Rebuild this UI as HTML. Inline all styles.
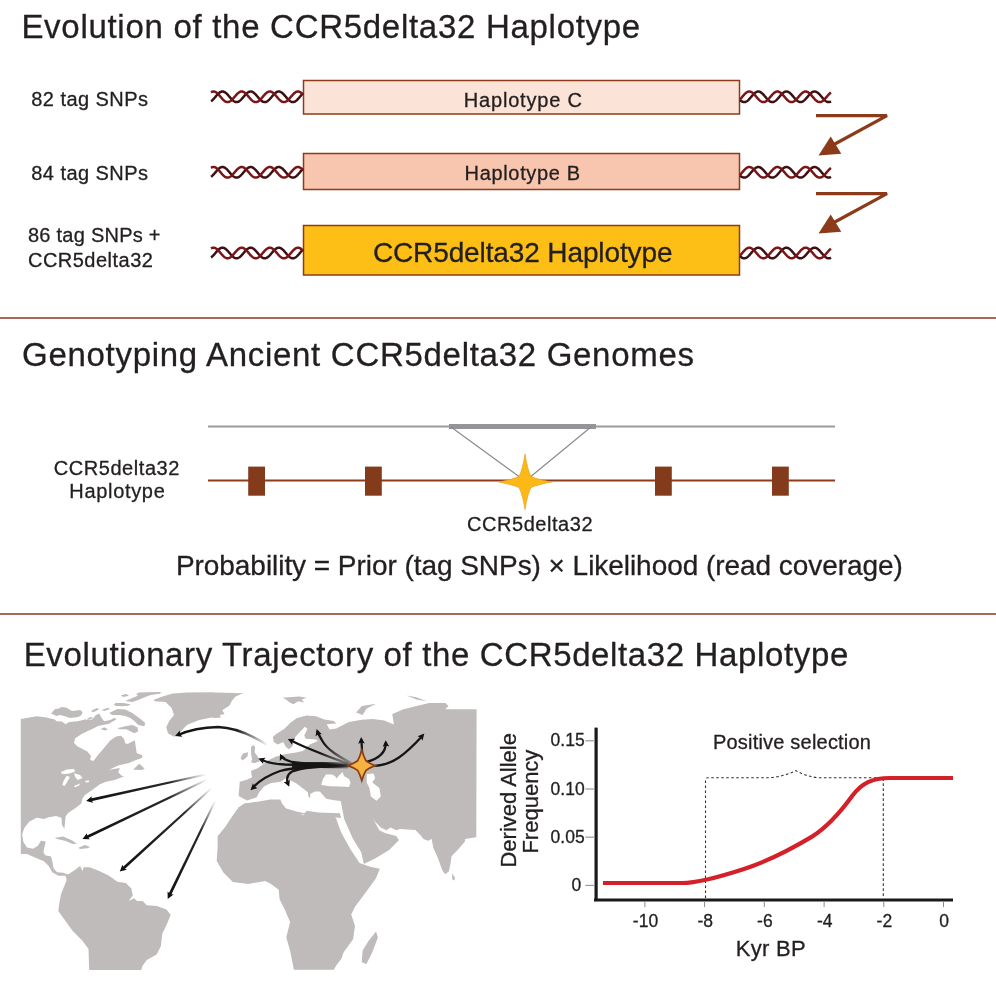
<!DOCTYPE html>
<html><head><meta charset="utf-8"><style>
html,body{margin:0;padding:0;background:#fff;width:996px;height:996px;overflow:hidden;position:relative}
text{font-family:"Liberation Sans",sans-serif;stroke:#231f20;stroke-width:0.3px}
svg{will-change:transform}
</style></head><body>
<svg width="996" height="996" viewBox="0 0 996 996" style="position:absolute;left:0;top:0"><text x="21.4" y="38.2" font-size="33" letter-spacing="0.71" fill="#231f20" font-family="Liberation Sans, sans-serif">Evolution of the CCR5delta32 Haplotype</text>
<text x="31.3" y="105.8" font-size="20" letter-spacing="0.44" fill="#231f20" font-family="Liberation Sans, sans-serif">82 tag SNPs</text>
<text x="31.3" y="179.8" font-size="20" letter-spacing="0.44" fill="#231f20" font-family="Liberation Sans, sans-serif">84 tag SNPs</text>
<text x="28" y="241.6" font-size="20" letter-spacing="0.25" fill="#231f20" font-family="Liberation Sans, sans-serif">86 tag SNPs +</text>
<text x="28" y="266.8" font-size="20" letter-spacing="0.48" fill="#231f20" font-family="Liberation Sans, sans-serif">CCR5delta32</text>
<rect x="303.5" y="80.5" width="436" height="33.5" fill="#fbe3d7" stroke="#8e3b1b" stroke-width="1.5"/>
<rect x="303.5" y="153.5" width="436" height="36" fill="#f8c5ae" stroke="#8e3b1b" stroke-width="1.5"/>
<rect x="303.5" y="225.5" width="436" height="49.5" fill="#fdbf16" stroke="#8e3b1b" stroke-width="1.5"/>
<text x="463.8" y="107" font-size="20" letter-spacing="0.8" fill="#231f20" font-family="Liberation Sans, sans-serif">Haplotype C</text>
<text x="464.6" y="180.3" font-size="20" letter-spacing="0.66" fill="#231f20" font-family="Liberation Sans, sans-serif">Haplotype B</text>
<text x="372.9" y="262.4" font-size="28" letter-spacing="-0.12" fill="#231f20" font-family="Liberation Sans, sans-serif">CCR5delta32 Haplotype</text>
<path d="M211.00,101.24 L211.38,100.97 L211.77,100.68 L212.15,100.35 L212.53,100.00 L212.92,99.63 L213.30,99.24 L213.68,98.83 L214.07,98.40 L214.45,97.96 L214.83,97.52 L215.22,97.07 L215.60,96.61 L215.98,96.16 L216.37,95.71 L216.75,95.28 L217.13,94.85 L217.52,94.43 L217.90,94.04 L218.28,93.66 L218.67,93.31 L219.05,92.98 L219.43,92.68 L219.82,92.41 L220.20,92.17 L220.58,91.97 L220.97,91.80 L221.35,91.67 L221.73,91.57 L222.12,91.52 L222.50,91.50 L222.88,91.52 L223.27,91.58 L223.65,91.68 L224.03,91.82 L224.42,91.99 L224.80,92.19 L225.18,92.44 L225.57,92.71 L225.95,93.01 L226.33,93.34 L226.72,93.70 L227.10,94.08 L227.48,94.48 L227.87,94.89 L228.25,95.32 L228.63,95.76 L229.02,96.21 L229.40,96.66 L229.78,97.11 L230.17,97.57 L230.55,98.01 L230.93,98.45 L231.32,98.87 L231.70,99.28 L232.08,99.67 L232.47,100.04 L232.85,100.39 L233.23,100.71 L233.62,101.00 L234.00,101.26 L234.38,101.49 L234.77,101.68 L235.15,101.84 L235.53,101.96 L235.92,102.05 L236.30,102.09 L236.68,102.10 L237.07,102.07 L237.45,101.99 L237.83,101.89 L238.22,101.74 L238.60,101.56 L238.98,101.34 L239.37,101.09 L239.75,100.81 L240.13,100.50 L240.52,100.16 L240.90,99.80 L241.28,99.41 L241.67,99.01 L242.05,98.59 L242.43,98.16 L242.82,97.71 L243.20,97.26 L243.58,96.81 L243.97,96.36 L244.35,95.91 L244.73,95.47 L245.12,95.03 L245.50,94.61 L245.88,94.21 L246.27,93.82 L246.65,93.46 L247.03,93.12 L247.42,92.81 L247.80,92.52 L248.18,92.27 L248.57,92.05 L248.95,91.87 L249.33,91.72 L249.72,91.61 L250.10,91.54 L250.48,91.50 L250.87,91.51 L251.25,91.55 L251.63,91.63 L252.02,91.75 L252.40,91.91 L252.78,92.10 L253.17,92.33 L253.55,92.59 L253.93,92.88 L254.32,93.20 L254.70,93.54 L255.08,93.91 L255.47,94.30 L255.85,94.71 L256.23,95.13 L256.62,95.57 L257.00,96.01 L257.38,96.46 L257.77,96.92 L258.15,97.37 L258.53,97.82 L258.92,98.26 L259.30,98.69 L259.68,99.10 L260.07,99.50 L260.45,99.88 L260.83,100.24 L261.22,100.57 L261.60,100.88 L261.98,101.15 L262.37,101.39 L262.75,101.60 L263.13,101.78 L263.52,101.91 L263.90,102.01 L264.28,102.08 L264.67,102.10 L265.05,102.08 L265.43,102.03 L265.82,101.94 L266.20,101.81 L266.58,101.64 L266.97,101.44 L267.35,101.20 L267.73,100.93 L268.12,100.64 L268.50,100.31 L268.88,99.96 L269.27,99.58 L269.65,99.19 L270.03,98.77 L270.42,98.35 L270.80,97.91 L271.18,97.46 L271.57,97.01 L271.95,96.55 L272.33,96.10 L272.72,95.66 L273.10,95.22 L273.48,94.79 L273.87,94.38 L274.25,93.99 L274.63,93.61 L275.02,93.26 L275.40,92.94 L275.78,92.64 L276.17,92.38 L276.55,92.14 L276.93,91.94 L277.32,91.78 L277.70,91.65 L278.08,91.56 L278.47,91.51 L278.85,91.50 L279.23,91.53 L279.62,91.59 L280.00,91.70 L280.38,91.84 L280.77,92.01 L281.15,92.22 L281.53,92.47 L281.92,92.75 L282.30,93.05 L282.68,93.39 L283.07,93.75 L283.45,94.13 L283.83,94.53 L284.22,94.95 L284.60,95.38 L284.98,95.82 L285.37,96.27 L285.75,96.72 L286.13,97.17 L286.52,97.62 L286.90,98.07 L287.28,98.50 L287.67,98.93 L288.05,99.33 L288.43,99.72 L288.82,100.09 L289.20,100.43 L289.58,100.75 L289.97,101.04 L290.35,101.29 L290.73,101.52 L291.12,101.71 L291.50,101.86 L291.88,101.98 L292.27,102.05 L292.65,102.09 L293.03,102.10 L293.42,102.06 L293.80,101.98 L294.18,101.87 L294.57,101.72 L294.95,101.53 L295.33,101.31 L295.72,101.06 L296.10,100.77 L296.48,100.46 L296.87,100.11 L297.25,99.75 L297.63,99.36 L298.02,98.96 L298.40,98.53 L298.78,98.10 L299.17,97.66 L299.55,97.21 L299.93,96.75 L300.32,96.30 L300.70,95.85 L301.08,95.41 L301.47,94.98 L301.85,94.56 L302.23,94.16 L302.62,93.77 L303.00,93.41" stroke="#3d1113" stroke-width="2.5" fill="none"/><path d="M211.00,92.32 L211.38,92.09 L211.77,91.90 L212.15,91.75 L212.53,91.63 L212.92,91.55 L213.30,91.51 L213.68,91.50 L214.07,91.54 L214.45,91.61 L214.83,91.73 L215.22,91.88 L215.60,92.06 L215.98,92.28 L216.37,92.53 L216.75,92.82 L217.13,93.13 L217.52,93.47 L217.90,93.84 L218.28,94.22 L218.67,94.63 L219.05,95.05 L219.43,95.48 L219.82,95.93 L220.20,96.38 L220.58,96.83 L220.97,97.28 L221.35,97.73 L221.73,98.18 L222.12,98.61 L222.50,99.03 L222.88,99.43 L223.27,99.81 L223.65,100.17 L224.03,100.51 L224.42,100.82 L224.80,101.10 L225.18,101.35 L225.57,101.57 L225.95,101.75 L226.33,101.89 L226.72,102.00 L227.10,102.07 L227.48,102.10 L227.87,102.09 L228.25,102.04 L228.63,101.96 L229.02,101.84 L229.40,101.68 L229.78,101.48 L230.17,101.25 L230.55,100.99 L230.93,100.70 L231.32,100.37 L231.70,100.03 L232.08,99.66 L232.47,99.26 L232.85,98.85 L233.23,98.43 L233.62,97.99 L234.00,97.55 L234.38,97.09 L234.77,96.64 L235.15,96.19 L235.53,95.74 L235.92,95.30 L236.30,94.87 L236.68,94.46 L237.07,94.06 L237.45,93.68 L237.83,93.33 L238.22,93.00 L238.60,92.70 L238.98,92.42 L239.37,92.19 L239.75,91.98 L240.13,91.81 L240.52,91.67 L240.90,91.58 L241.28,91.52 L241.67,91.50 L242.05,91.52 L242.43,91.58 L242.82,91.67 L243.20,91.81 L243.58,91.98 L243.97,92.18 L244.35,92.42 L244.73,92.69 L245.12,92.99 L245.50,93.32 L245.88,93.68 L246.27,94.05 L246.65,94.45 L247.03,94.87 L247.42,95.29 L247.80,95.73 L248.18,96.18 L248.57,96.63 L248.95,97.09 L249.33,97.54 L249.72,97.98 L250.10,98.42 L250.48,98.85 L250.87,99.26 L251.25,99.65 L251.63,100.02 L252.02,100.37 L252.40,100.69 L252.78,100.98 L253.17,101.25 L253.55,101.48 L253.93,101.67 L254.32,101.83 L254.70,101.96 L255.08,102.04 L255.47,102.09 L255.85,102.10 L256.23,102.07 L256.62,102.00 L257.00,101.89 L257.38,101.75 L257.77,101.57 L258.15,101.35 L258.53,101.11 L258.92,100.83 L259.30,100.52 L259.68,100.18 L260.07,99.82 L260.45,99.44 L260.83,99.03 L261.22,98.61 L261.60,98.18 L261.98,97.74 L262.37,97.29 L262.75,96.84 L263.13,96.39 L263.52,95.94 L263.90,95.49 L264.28,95.06 L264.67,94.64 L265.05,94.23 L265.43,93.84 L265.82,93.48 L266.20,93.14 L266.58,92.82 L266.97,92.54 L267.35,92.29 L267.73,92.06 L268.12,91.88 L268.50,91.73 L268.88,91.62 L269.27,91.54 L269.65,91.50 L270.03,91.51 L270.42,91.55 L270.80,91.63 L271.18,91.74 L271.57,91.90 L271.95,92.09 L272.33,92.31 L272.72,92.57 L273.10,92.86 L273.48,93.18 L273.87,93.52 L274.25,93.89 L274.63,94.28 L275.02,94.68 L275.40,95.11 L275.78,95.54 L276.17,95.99 L276.55,96.44 L276.93,96.89 L277.32,97.34 L277.70,97.79 L278.08,98.23 L278.47,98.66 L278.85,99.08 L279.23,99.48 L279.62,99.86 L280.00,100.22 L280.38,100.55 L280.77,100.86 L281.15,101.14 L281.53,101.38 L281.92,101.59 L282.30,101.77 L282.68,101.91 L283.07,102.01 L283.45,102.07 L283.83,102.10 L284.22,102.09 L284.60,102.03 L284.98,101.94 L285.37,101.82 L285.75,101.65 L286.13,101.45 L286.52,101.22 L286.90,100.95 L287.28,100.65 L287.67,100.33 L288.05,99.98 L288.43,99.61 L288.82,99.21 L289.20,98.80 L289.58,98.37 L289.97,97.93 L290.35,97.49 L290.73,97.04 L291.12,96.58 L291.50,96.13 L291.88,95.68 L292.27,95.24 L292.65,94.82 L293.03,94.40 L293.42,94.01 L293.80,93.63 L294.18,93.28 L294.57,92.96 L294.95,92.66 L295.33,92.39 L295.72,92.16 L296.10,91.95 L296.48,91.79 L296.87,91.66 L297.25,91.57 L297.63,91.51 L298.02,91.50 L298.40,91.52 L298.78,91.59 L299.17,91.69 L299.55,91.83 L299.93,92.00 L300.32,92.21 L300.70,92.45 L301.08,92.73 L301.47,93.03 L301.85,93.37 L302.23,93.72 L302.62,94.10 L303.00,94.50" stroke="#7c1517" stroke-width="2.5" fill="none"/>
<path d="M740.00,99.93 L740.38,100.28 L740.76,100.61 L741.14,100.91 L741.52,101.17 L741.90,101.41 L742.27,101.62 L742.65,101.79 L743.03,101.92 L743.41,102.02 L743.79,102.08 L744.17,102.10 L744.55,102.08 L744.93,102.03 L745.31,101.94 L745.69,101.81 L746.07,101.65 L746.45,101.45 L746.83,101.22 L747.20,100.96 L747.58,100.66 L747.96,100.34 L748.34,100.00 L748.72,99.63 L749.10,99.24 L749.48,98.83 L749.86,98.41 L750.24,97.98 L750.62,97.54 L751.00,97.09 L751.38,96.64 L751.75,96.20 L752.13,95.75 L752.51,95.32 L752.89,94.89 L753.27,94.48 L753.65,94.09 L754.03,93.71 L754.41,93.36 L754.79,93.03 L755.17,92.73 L755.55,92.46 L755.92,92.22 L756.30,92.01 L756.68,91.83 L757.06,91.69 L757.44,91.59 L757.82,91.53 L758.20,91.50 L758.58,91.51 L758.96,91.56 L759.34,91.65 L759.72,91.77 L760.10,91.93 L760.48,92.12 L760.85,92.35 L761.23,92.61 L761.61,92.90 L761.99,93.22 L762.37,93.56 L762.75,93.93 L763.13,94.31 L763.51,94.72 L763.89,95.14 L764.27,95.57 L764.65,96.01 L765.02,96.45 L765.40,96.90 L765.78,97.35 L766.16,97.79 L766.54,98.23 L766.92,98.66 L767.30,99.07 L767.68,99.47 L768.06,99.84 L768.44,100.20 L768.82,100.53 L769.20,100.84 L769.58,101.11 L769.95,101.36 L770.33,101.57 L770.71,101.75 L771.09,101.89 L771.47,102.00 L771.85,102.07 L772.23,102.10 L772.61,102.09 L772.99,102.05 L773.37,101.97 L773.75,101.85 L774.12,101.69 L774.50,101.50 L774.88,101.28 L775.26,101.02 L775.64,100.74 L776.02,100.42 L776.40,100.08 L776.78,99.72 L777.16,99.34 L777.54,98.93 L777.92,98.51 L778.30,98.08 L778.67,97.65 L779.05,97.20 L779.43,96.75 L779.81,96.30 L780.19,95.86 L780.57,95.42 L780.95,94.99 L781.33,94.58 L781.71,94.18 L782.09,93.80 L782.47,93.44 L782.85,93.11 L783.23,92.80 L783.60,92.52 L783.98,92.27 L784.36,92.05 L784.74,91.87 L785.12,91.72 L785.50,91.61 L785.88,91.54 L786.26,91.50 L786.64,91.51 L787.02,91.55 L787.40,91.62 L787.77,91.74 L788.15,91.89 L788.53,92.07 L788.91,92.29 L789.29,92.54 L789.67,92.83 L790.05,93.14 L790.43,93.47 L790.81,93.84 L791.19,94.22 L791.57,94.62 L791.95,95.03 L792.33,95.46 L792.70,95.90 L793.08,96.35 L793.46,96.79 L793.84,97.24 L794.22,97.69 L794.60,98.13 L794.98,98.55 L795.36,98.97 L795.74,99.37 L796.12,99.75 L796.50,100.12 L796.88,100.45 L797.25,100.76 L797.63,101.05 L798.01,101.30 L798.39,101.52 L798.77,101.71 L799.15,101.86 L799.53,101.97 L799.91,102.05 L800.29,102.09 L800.67,102.10 L801.05,102.06 L801.42,101.99 L801.80,101.88 L802.18,101.73 L802.56,101.55 L802.94,101.34 L803.32,101.09 L803.70,100.81 L804.08,100.50 L804.46,100.17 L804.84,99.81 L805.22,99.43 L805.60,99.03 L805.98,98.62 L806.35,98.19 L806.73,97.75 L807.11,97.31 L807.49,96.86 L807.87,96.41 L808.25,95.97 L808.63,95.53 L809.01,95.10 L809.39,94.68 L809.77,94.28 L810.15,93.89 L810.52,93.53 L810.90,93.19 L811.28,92.87 L811.66,92.58 L812.04,92.33 L812.42,92.10 L812.80,91.91 L813.18,91.76 L813.56,91.64 L813.94,91.55 L814.32,91.51 L814.70,91.50 L815.08,91.53 L815.45,91.60 L815.83,91.71 L816.21,91.85 L816.59,92.03 L816.97,92.24 L817.35,92.48 L817.73,92.76 L818.11,93.06 L818.49,93.39 L818.87,93.75 L819.25,94.12 L819.62,94.52 L820.00,94.93 L820.38,95.36 L820.76,95.79 L821.14,96.24 L821.52,96.69 L821.90,97.13 L822.28,97.58 L822.66,98.02 L823.04,98.45 L823.42,98.87 L823.80,99.28 L824.17,99.66 L824.55,100.03 L824.93,100.37 L825.31,100.69 L825.69,100.98 L826.07,101.24 L826.45,101.47 L826.83,101.67 L827.21,101.83 L827.59,101.95 L827.97,102.04 L828.35,102.09 L828.73,102.10 L829.10,102.07 L829.48,102.01 L829.86,101.91 L830.24,101.77 L830.62,101.60 L831.00,101.39" stroke="#3d1113" stroke-width="2.5" fill="none"/><path d="M740.00,99.38 L740.38,98.98 L740.76,98.57 L741.14,98.14 L741.52,97.70 L741.90,97.26 L742.27,96.81 L742.65,96.36 L743.03,95.92 L743.41,95.48 L743.79,95.05 L744.17,94.63 L744.55,94.23 L744.93,93.85 L745.31,93.49 L745.69,93.15 L746.07,92.84 L746.45,92.55 L746.83,92.30 L747.20,92.08 L747.58,91.89 L747.96,91.74 L748.34,91.63 L748.72,91.55 L749.10,91.51 L749.48,91.50 L749.86,91.54 L750.24,91.61 L750.62,91.72 L751.00,91.87 L751.38,92.05 L751.75,92.26 L752.13,92.51 L752.51,92.79 L752.89,93.10 L753.27,93.43 L753.65,93.79 L754.03,94.17 L754.41,94.57 L754.79,94.98 L755.17,95.41 L755.55,95.85 L755.92,96.29 L756.30,96.74 L756.68,97.19 L757.06,97.63 L757.44,98.07 L757.82,98.50 L758.20,98.92 L758.58,99.32 L758.96,99.71 L759.34,100.07 L759.72,100.41 L760.10,100.73 L760.48,101.01 L760.85,101.27 L761.23,101.50 L761.61,101.69 L761.99,101.84 L762.37,101.96 L762.75,102.05 L763.13,102.09 L763.51,102.10 L763.89,102.07 L764.27,102.00 L764.65,101.89 L765.02,101.75 L765.40,101.58 L765.78,101.36 L766.16,101.12 L766.54,100.85 L766.92,100.54 L767.30,100.21 L767.68,99.86 L768.06,99.48 L768.44,99.08 L768.82,98.67 L769.20,98.24 L769.58,97.81 L769.95,97.36 L770.33,96.92 L770.71,96.47 L771.09,96.02 L771.47,95.58 L771.85,95.15 L772.23,94.73 L772.61,94.33 L772.99,93.94 L773.37,93.57 L773.75,93.23 L774.12,92.91 L774.50,92.62 L774.88,92.36 L775.26,92.13 L775.64,91.94 L776.02,91.77 L776.40,91.65 L776.78,91.56 L777.16,91.51 L777.54,91.50 L777.92,91.53 L778.30,91.59 L778.67,91.69 L779.05,91.83 L779.43,92.00 L779.81,92.21 L780.19,92.45 L780.57,92.72 L780.95,93.02 L781.33,93.35 L781.71,93.70 L782.09,94.07 L782.47,94.47 L782.85,94.88 L783.23,95.30 L783.60,95.74 L783.98,96.18 L784.36,96.63 L784.74,97.08 L785.12,97.52 L785.50,97.96 L785.88,98.40 L786.26,98.82 L786.64,99.23 L787.02,99.62 L787.40,99.99 L787.77,100.33 L788.15,100.65 L788.53,100.95 L788.91,101.21 L789.29,101.44 L789.67,101.64 L790.05,101.81 L790.43,101.94 L790.81,102.03 L791.19,102.08 L791.57,102.10 L791.95,102.08 L792.33,102.02 L792.70,101.92 L793.08,101.79 L793.46,101.62 L793.84,101.42 L794.22,101.18 L794.60,100.91 L794.98,100.62 L795.36,100.29 L795.74,99.94 L796.12,99.57 L796.50,99.18 L796.88,98.77 L797.25,98.35 L797.63,97.91 L798.01,97.47 L798.39,97.03 L798.77,96.58 L799.15,96.13 L799.53,95.69 L799.91,95.25 L800.29,94.83 L800.67,94.42 L801.05,94.03 L801.42,93.66 L801.80,93.31 L802.18,92.98 L802.56,92.69 L802.94,92.42 L803.32,92.18 L803.70,91.98 L804.08,91.81 L804.46,91.68 L804.84,91.58 L805.22,91.52 L805.60,91.50 L805.98,91.52 L806.35,91.57 L806.73,91.66 L807.11,91.79 L807.49,91.96 L807.87,92.16 L808.25,92.39 L808.63,92.65 L809.01,92.95 L809.39,93.27 L809.77,93.61 L810.15,93.98 L810.52,94.37 L810.90,94.78 L811.28,95.20 L811.66,95.63 L812.04,96.07 L812.42,96.52 L812.80,96.97 L813.18,97.42 L813.56,97.86 L813.94,98.29 L814.32,98.72 L814.70,99.13 L815.08,99.52 L815.45,99.90 L815.83,100.25 L816.21,100.58 L816.59,100.88 L816.97,101.15 L817.35,101.39 L817.73,101.60 L818.11,101.77 L818.49,101.91 L818.87,102.01 L819.25,102.07 L819.62,102.10 L820.00,102.09 L820.38,102.04 L820.76,101.95 L821.14,101.83 L821.52,101.67 L821.90,101.47 L822.28,101.24 L822.66,100.98 L823.04,100.69 L823.42,100.37 L823.80,100.03 L824.17,99.66 L824.55,99.28 L824.93,98.87 L825.31,98.45 L825.69,98.02 L826.07,97.58 L826.45,97.13 L826.83,96.69 L827.21,96.24 L827.59,95.79 L827.97,95.36 L828.35,94.93 L828.73,94.52 L829.10,94.12 L829.48,93.75 L829.86,93.39 L830.24,93.06 L830.62,92.76 L831.00,92.48" stroke="#7c1517" stroke-width="2.5" fill="none"/>
<path d="M211.00,176.74 L211.38,176.47 L211.77,176.18 L212.15,175.85 L212.53,175.50 L212.92,175.13 L213.30,174.74 L213.68,174.33 L214.07,173.90 L214.45,173.46 L214.83,173.02 L215.22,172.57 L215.60,172.11 L215.98,171.66 L216.37,171.21 L216.75,170.78 L217.13,170.35 L217.52,169.93 L217.90,169.54 L218.28,169.16 L218.67,168.81 L219.05,168.48 L219.43,168.18 L219.82,167.91 L220.20,167.67 L220.58,167.47 L220.97,167.30 L221.35,167.17 L221.73,167.07 L222.12,167.02 L222.50,167.00 L222.88,167.02 L223.27,167.08 L223.65,167.18 L224.03,167.32 L224.42,167.49 L224.80,167.69 L225.18,167.94 L225.57,168.21 L225.95,168.51 L226.33,168.84 L226.72,169.20 L227.10,169.58 L227.48,169.98 L227.87,170.39 L228.25,170.82 L228.63,171.26 L229.02,171.71 L229.40,172.16 L229.78,172.61 L230.17,173.07 L230.55,173.51 L230.93,173.95 L231.32,174.37 L231.70,174.78 L232.08,175.17 L232.47,175.54 L232.85,175.89 L233.23,176.21 L233.62,176.50 L234.00,176.76 L234.38,176.99 L234.77,177.18 L235.15,177.34 L235.53,177.46 L235.92,177.55 L236.30,177.59 L236.68,177.60 L237.07,177.57 L237.45,177.49 L237.83,177.39 L238.22,177.24 L238.60,177.06 L238.98,176.84 L239.37,176.59 L239.75,176.31 L240.13,176.00 L240.52,175.66 L240.90,175.30 L241.28,174.91 L241.67,174.51 L242.05,174.09 L242.43,173.66 L242.82,173.21 L243.20,172.76 L243.58,172.31 L243.97,171.86 L244.35,171.41 L244.73,170.97 L245.12,170.53 L245.50,170.11 L245.88,169.71 L246.27,169.32 L246.65,168.96 L247.03,168.62 L247.42,168.31 L247.80,168.02 L248.18,167.77 L248.57,167.55 L248.95,167.37 L249.33,167.22 L249.72,167.11 L250.10,167.04 L250.48,167.00 L250.87,167.01 L251.25,167.05 L251.63,167.13 L252.02,167.25 L252.40,167.41 L252.78,167.60 L253.17,167.83 L253.55,168.09 L253.93,168.38 L254.32,168.70 L254.70,169.04 L255.08,169.41 L255.47,169.80 L255.85,170.21 L256.23,170.63 L256.62,171.07 L257.00,171.51 L257.38,171.96 L257.77,172.42 L258.15,172.87 L258.53,173.32 L258.92,173.76 L259.30,174.19 L259.68,174.60 L260.07,175.00 L260.45,175.38 L260.83,175.74 L261.22,176.07 L261.60,176.38 L261.98,176.65 L262.37,176.89 L262.75,177.10 L263.13,177.28 L263.52,177.41 L263.90,177.51 L264.28,177.58 L264.67,177.60 L265.05,177.58 L265.43,177.53 L265.82,177.44 L266.20,177.31 L266.58,177.14 L266.97,176.94 L267.35,176.70 L267.73,176.43 L268.12,176.14 L268.50,175.81 L268.88,175.46 L269.27,175.08 L269.65,174.69 L270.03,174.27 L270.42,173.85 L270.80,173.41 L271.18,172.96 L271.57,172.51 L271.95,172.05 L272.33,171.60 L272.72,171.16 L273.10,170.72 L273.48,170.29 L273.87,169.88 L274.25,169.49 L274.63,169.11 L275.02,168.76 L275.40,168.44 L275.78,168.14 L276.17,167.88 L276.55,167.64 L276.93,167.44 L277.32,167.28 L277.70,167.15 L278.08,167.06 L278.47,167.01 L278.85,167.00 L279.23,167.03 L279.62,167.09 L280.00,167.20 L280.38,167.34 L280.77,167.51 L281.15,167.72 L281.53,167.97 L281.92,168.25 L282.30,168.55 L282.68,168.89 L283.07,169.25 L283.45,169.63 L283.83,170.03 L284.22,170.45 L284.60,170.88 L284.98,171.32 L285.37,171.77 L285.75,172.22 L286.13,172.67 L286.52,173.12 L286.90,173.57 L287.28,174.00 L287.67,174.43 L288.05,174.83 L288.43,175.22 L288.82,175.59 L289.20,175.93 L289.58,176.25 L289.97,176.54 L290.35,176.79 L290.73,177.02 L291.12,177.21 L291.50,177.36 L291.88,177.48 L292.27,177.55 L292.65,177.59 L293.03,177.60 L293.42,177.56 L293.80,177.48 L294.18,177.37 L294.57,177.22 L294.95,177.03 L295.33,176.81 L295.72,176.56 L296.10,176.27 L296.48,175.96 L296.87,175.61 L297.25,175.25 L297.63,174.86 L298.02,174.46 L298.40,174.03 L298.78,173.60 L299.17,173.16 L299.55,172.71 L299.93,172.25 L300.32,171.80 L300.70,171.35 L301.08,170.91 L301.47,170.48 L301.85,170.06 L302.23,169.66 L302.62,169.27 L303.00,168.91" stroke="#3d1113" stroke-width="2.5" fill="none"/><path d="M211.00,167.82 L211.38,167.59 L211.77,167.40 L212.15,167.25 L212.53,167.13 L212.92,167.05 L213.30,167.01 L213.68,167.00 L214.07,167.04 L214.45,167.11 L214.83,167.23 L215.22,167.38 L215.60,167.56 L215.98,167.78 L216.37,168.03 L216.75,168.32 L217.13,168.63 L217.52,168.97 L217.90,169.34 L218.28,169.72 L218.67,170.13 L219.05,170.55 L219.43,170.98 L219.82,171.43 L220.20,171.88 L220.58,172.33 L220.97,172.78 L221.35,173.23 L221.73,173.68 L222.12,174.11 L222.50,174.53 L222.88,174.93 L223.27,175.31 L223.65,175.67 L224.03,176.01 L224.42,176.32 L224.80,176.60 L225.18,176.85 L225.57,177.07 L225.95,177.25 L226.33,177.39 L226.72,177.50 L227.10,177.57 L227.48,177.60 L227.87,177.59 L228.25,177.54 L228.63,177.46 L229.02,177.34 L229.40,177.18 L229.78,176.98 L230.17,176.75 L230.55,176.49 L230.93,176.20 L231.32,175.87 L231.70,175.53 L232.08,175.16 L232.47,174.76 L232.85,174.35 L233.23,173.93 L233.62,173.49 L234.00,173.05 L234.38,172.59 L234.77,172.14 L235.15,171.69 L235.53,171.24 L235.92,170.80 L236.30,170.37 L236.68,169.96 L237.07,169.56 L237.45,169.18 L237.83,168.83 L238.22,168.50 L238.60,168.20 L238.98,167.92 L239.37,167.69 L239.75,167.48 L240.13,167.31 L240.52,167.17 L240.90,167.08 L241.28,167.02 L241.67,167.00 L242.05,167.02 L242.43,167.08 L242.82,167.17 L243.20,167.31 L243.58,167.48 L243.97,167.68 L244.35,167.92 L244.73,168.19 L245.12,168.49 L245.50,168.82 L245.88,169.18 L246.27,169.55 L246.65,169.95 L247.03,170.37 L247.42,170.79 L247.80,171.23 L248.18,171.68 L248.57,172.13 L248.95,172.59 L249.33,173.04 L249.72,173.48 L250.10,173.92 L250.48,174.35 L250.87,174.76 L251.25,175.15 L251.63,175.52 L252.02,175.87 L252.40,176.19 L252.78,176.48 L253.17,176.75 L253.55,176.98 L253.93,177.17 L254.32,177.33 L254.70,177.46 L255.08,177.54 L255.47,177.59 L255.85,177.60 L256.23,177.57 L256.62,177.50 L257.00,177.39 L257.38,177.25 L257.77,177.07 L258.15,176.85 L258.53,176.61 L258.92,176.33 L259.30,176.02 L259.68,175.68 L260.07,175.32 L260.45,174.94 L260.83,174.53 L261.22,174.11 L261.60,173.68 L261.98,173.24 L262.37,172.79 L262.75,172.34 L263.13,171.89 L263.52,171.44 L263.90,170.99 L264.28,170.56 L264.67,170.14 L265.05,169.73 L265.43,169.34 L265.82,168.98 L266.20,168.64 L266.58,168.32 L266.97,168.04 L267.35,167.79 L267.73,167.56 L268.12,167.38 L268.50,167.23 L268.88,167.12 L269.27,167.04 L269.65,167.00 L270.03,167.01 L270.42,167.05 L270.80,167.13 L271.18,167.24 L271.57,167.40 L271.95,167.59 L272.33,167.81 L272.72,168.07 L273.10,168.36 L273.48,168.68 L273.87,169.02 L274.25,169.39 L274.63,169.78 L275.02,170.18 L275.40,170.61 L275.78,171.04 L276.17,171.49 L276.55,171.94 L276.93,172.39 L277.32,172.84 L277.70,173.29 L278.08,173.73 L278.47,174.16 L278.85,174.58 L279.23,174.98 L279.62,175.36 L280.00,175.72 L280.38,176.05 L280.77,176.36 L281.15,176.64 L281.53,176.88 L281.92,177.09 L282.30,177.27 L282.68,177.41 L283.07,177.51 L283.45,177.57 L283.83,177.60 L284.22,177.59 L284.60,177.53 L284.98,177.44 L285.37,177.32 L285.75,177.15 L286.13,176.95 L286.52,176.72 L286.90,176.45 L287.28,176.15 L287.67,175.83 L288.05,175.48 L288.43,175.11 L288.82,174.71 L289.20,174.30 L289.58,173.87 L289.97,173.43 L290.35,172.99 L290.73,172.54 L291.12,172.08 L291.50,171.63 L291.88,171.18 L292.27,170.74 L292.65,170.32 L293.03,169.90 L293.42,169.51 L293.80,169.13 L294.18,168.78 L294.57,168.46 L294.95,168.16 L295.33,167.89 L295.72,167.66 L296.10,167.45 L296.48,167.29 L296.87,167.16 L297.25,167.07 L297.63,167.01 L298.02,167.00 L298.40,167.02 L298.78,167.09 L299.17,167.19 L299.55,167.33 L299.93,167.50 L300.32,167.71 L300.70,167.95 L301.08,168.23 L301.47,168.53 L301.85,168.87 L302.23,169.22 L302.62,169.60 L303.00,170.00" stroke="#7c1517" stroke-width="2.5" fill="none"/>
<path d="M740.00,175.43 L740.38,175.78 L740.76,176.11 L741.14,176.41 L741.52,176.67 L741.90,176.91 L742.27,177.12 L742.65,177.29 L743.03,177.42 L743.41,177.52 L743.79,177.58 L744.17,177.60 L744.55,177.58 L744.93,177.53 L745.31,177.44 L745.69,177.31 L746.07,177.15 L746.45,176.95 L746.83,176.72 L747.20,176.46 L747.58,176.16 L747.96,175.84 L748.34,175.50 L748.72,175.13 L749.10,174.74 L749.48,174.33 L749.86,173.91 L750.24,173.48 L750.62,173.04 L751.00,172.59 L751.38,172.14 L751.75,171.70 L752.13,171.25 L752.51,170.82 L752.89,170.39 L753.27,169.98 L753.65,169.59 L754.03,169.21 L754.41,168.86 L754.79,168.53 L755.17,168.23 L755.55,167.96 L755.92,167.72 L756.30,167.51 L756.68,167.33 L757.06,167.19 L757.44,167.09 L757.82,167.03 L758.20,167.00 L758.58,167.01 L758.96,167.06 L759.34,167.15 L759.72,167.27 L760.10,167.43 L760.48,167.62 L760.85,167.85 L761.23,168.11 L761.61,168.40 L761.99,168.72 L762.37,169.06 L762.75,169.43 L763.13,169.81 L763.51,170.22 L763.89,170.64 L764.27,171.07 L764.65,171.51 L765.02,171.95 L765.40,172.40 L765.78,172.85 L766.16,173.29 L766.54,173.73 L766.92,174.16 L767.30,174.57 L767.68,174.97 L768.06,175.34 L768.44,175.70 L768.82,176.03 L769.20,176.34 L769.58,176.61 L769.95,176.86 L770.33,177.07 L770.71,177.25 L771.09,177.39 L771.47,177.50 L771.85,177.57 L772.23,177.60 L772.61,177.59 L772.99,177.55 L773.37,177.47 L773.75,177.35 L774.12,177.19 L774.50,177.00 L774.88,176.78 L775.26,176.52 L775.64,176.24 L776.02,175.92 L776.40,175.58 L776.78,175.22 L777.16,174.84 L777.54,174.43 L777.92,174.01 L778.30,173.58 L778.67,173.15 L779.05,172.70 L779.43,172.25 L779.81,171.80 L780.19,171.36 L780.57,170.92 L780.95,170.49 L781.33,170.08 L781.71,169.68 L782.09,169.30 L782.47,168.94 L782.85,168.61 L783.23,168.30 L783.60,168.02 L783.98,167.77 L784.36,167.55 L784.74,167.37 L785.12,167.22 L785.50,167.11 L785.88,167.04 L786.26,167.00 L786.64,167.01 L787.02,167.05 L787.40,167.12 L787.77,167.24 L788.15,167.39 L788.53,167.57 L788.91,167.79 L789.29,168.04 L789.67,168.33 L790.05,168.64 L790.43,168.97 L790.81,169.34 L791.19,169.72 L791.57,170.12 L791.95,170.53 L792.33,170.96 L792.70,171.40 L793.08,171.85 L793.46,172.29 L793.84,172.74 L794.22,173.19 L794.60,173.63 L794.98,174.05 L795.36,174.47 L795.74,174.87 L796.12,175.25 L796.50,175.62 L796.88,175.95 L797.25,176.26 L797.63,176.55 L798.01,176.80 L798.39,177.02 L798.77,177.21 L799.15,177.36 L799.53,177.47 L799.91,177.55 L800.29,177.59 L800.67,177.60 L801.05,177.56 L801.42,177.49 L801.80,177.38 L802.18,177.23 L802.56,177.05 L802.94,176.84 L803.32,176.59 L803.70,176.31 L804.08,176.00 L804.46,175.67 L804.84,175.31 L805.22,174.93 L805.60,174.53 L805.98,174.12 L806.35,173.69 L806.73,173.25 L807.11,172.81 L807.49,172.36 L807.87,171.91 L808.25,171.47 L808.63,171.03 L809.01,170.60 L809.39,170.18 L809.77,169.78 L810.15,169.39 L810.52,169.03 L810.90,168.69 L811.28,168.37 L811.66,168.08 L812.04,167.83 L812.42,167.60 L812.80,167.41 L813.18,167.26 L813.56,167.14 L813.94,167.05 L814.32,167.01 L814.70,167.00 L815.08,167.03 L815.45,167.10 L815.83,167.21 L816.21,167.35 L816.59,167.53 L816.97,167.74 L817.35,167.98 L817.73,168.26 L818.11,168.56 L818.49,168.89 L818.87,169.25 L819.25,169.62 L819.62,170.02 L820.00,170.43 L820.38,170.86 L820.76,171.29 L821.14,171.74 L821.52,172.19 L821.90,172.63 L822.28,173.08 L822.66,173.52 L823.04,173.95 L823.42,174.37 L823.80,174.78 L824.17,175.16 L824.55,175.53 L824.93,175.87 L825.31,176.19 L825.69,176.48 L826.07,176.74 L826.45,176.97 L826.83,177.17 L827.21,177.33 L827.59,177.45 L827.97,177.54 L828.35,177.59 L828.73,177.60 L829.10,177.57 L829.48,177.51 L829.86,177.41 L830.24,177.27 L830.62,177.10 L831.00,176.89" stroke="#3d1113" stroke-width="2.5" fill="none"/><path d="M740.00,174.88 L740.38,174.48 L740.76,174.07 L741.14,173.64 L741.52,173.20 L741.90,172.76 L742.27,172.31 L742.65,171.86 L743.03,171.42 L743.41,170.98 L743.79,170.55 L744.17,170.13 L744.55,169.73 L744.93,169.35 L745.31,168.99 L745.69,168.65 L746.07,168.34 L746.45,168.05 L746.83,167.80 L747.20,167.58 L747.58,167.39 L747.96,167.24 L748.34,167.13 L748.72,167.05 L749.10,167.01 L749.48,167.00 L749.86,167.04 L750.24,167.11 L750.62,167.22 L751.00,167.37 L751.38,167.55 L751.75,167.76 L752.13,168.01 L752.51,168.29 L752.89,168.60 L753.27,168.93 L753.65,169.29 L754.03,169.67 L754.41,170.07 L754.79,170.48 L755.17,170.91 L755.55,171.35 L755.92,171.79 L756.30,172.24 L756.68,172.69 L757.06,173.13 L757.44,173.57 L757.82,174.00 L758.20,174.42 L758.58,174.82 L758.96,175.21 L759.34,175.57 L759.72,175.91 L760.10,176.23 L760.48,176.51 L760.85,176.77 L761.23,177.00 L761.61,177.19 L761.99,177.34 L762.37,177.46 L762.75,177.55 L763.13,177.59 L763.51,177.60 L763.89,177.57 L764.27,177.50 L764.65,177.39 L765.02,177.25 L765.40,177.08 L765.78,176.86 L766.16,176.62 L766.54,176.35 L766.92,176.04 L767.30,175.71 L767.68,175.36 L768.06,174.98 L768.44,174.58 L768.82,174.17 L769.20,173.74 L769.58,173.31 L769.95,172.86 L770.33,172.42 L770.71,171.97 L771.09,171.52 L771.47,171.08 L771.85,170.65 L772.23,170.23 L772.61,169.83 L772.99,169.44 L773.37,169.07 L773.75,168.73 L774.12,168.41 L774.50,168.12 L774.88,167.86 L775.26,167.63 L775.64,167.44 L776.02,167.27 L776.40,167.15 L776.78,167.06 L777.16,167.01 L777.54,167.00 L777.92,167.03 L778.30,167.09 L778.67,167.19 L779.05,167.33 L779.43,167.50 L779.81,167.71 L780.19,167.95 L780.57,168.22 L780.95,168.52 L781.33,168.85 L781.71,169.20 L782.09,169.57 L782.47,169.97 L782.85,170.38 L783.23,170.80 L783.60,171.24 L783.98,171.68 L784.36,172.13 L784.74,172.58 L785.12,173.02 L785.50,173.46 L785.88,173.90 L786.26,174.32 L786.64,174.73 L787.02,175.12 L787.40,175.49 L787.77,175.83 L788.15,176.15 L788.53,176.45 L788.91,176.71 L789.29,176.94 L789.67,177.14 L790.05,177.31 L790.43,177.44 L790.81,177.53 L791.19,177.58 L791.57,177.60 L791.95,177.58 L792.33,177.52 L792.70,177.42 L793.08,177.29 L793.46,177.12 L793.84,176.92 L794.22,176.68 L794.60,176.41 L794.98,176.12 L795.36,175.79 L795.74,175.44 L796.12,175.07 L796.50,174.68 L796.88,174.27 L797.25,173.85 L797.63,173.41 L798.01,172.97 L798.39,172.53 L798.77,172.08 L799.15,171.63 L799.53,171.19 L799.91,170.75 L800.29,170.33 L800.67,169.92 L801.05,169.53 L801.42,169.16 L801.80,168.81 L802.18,168.48 L802.56,168.19 L802.94,167.92 L803.32,167.68 L803.70,167.48 L804.08,167.31 L804.46,167.18 L804.84,167.08 L805.22,167.02 L805.60,167.00 L805.98,167.02 L806.35,167.07 L806.73,167.16 L807.11,167.29 L807.49,167.46 L807.87,167.66 L808.25,167.89 L808.63,168.15 L809.01,168.45 L809.39,168.77 L809.77,169.11 L810.15,169.48 L810.52,169.87 L810.90,170.28 L811.28,170.70 L811.66,171.13 L812.04,171.57 L812.42,172.02 L812.80,172.47 L813.18,172.92 L813.56,173.36 L813.94,173.79 L814.32,174.22 L814.70,174.63 L815.08,175.02 L815.45,175.40 L815.83,175.75 L816.21,176.08 L816.59,176.38 L816.97,176.65 L817.35,176.89 L817.73,177.10 L818.11,177.27 L818.49,177.41 L818.87,177.51 L819.25,177.57 L819.62,177.60 L820.00,177.59 L820.38,177.54 L820.76,177.45 L821.14,177.33 L821.52,177.17 L821.90,176.97 L822.28,176.74 L822.66,176.48 L823.04,176.19 L823.42,175.87 L823.80,175.53 L824.17,175.16 L824.55,174.78 L824.93,174.37 L825.31,173.95 L825.69,173.52 L826.07,173.08 L826.45,172.63 L826.83,172.19 L827.21,171.74 L827.59,171.29 L827.97,170.86 L828.35,170.43 L828.73,170.02 L829.10,169.62 L829.48,169.25 L829.86,168.89 L830.24,168.56 L830.62,168.26 L831.00,167.98" stroke="#7c1517" stroke-width="2.5" fill="none"/>
<path d="M211.00,257.44 L211.38,257.17 L211.77,256.88 L212.15,256.55 L212.53,256.20 L212.92,255.83 L213.30,255.44 L213.68,255.03 L214.07,254.60 L214.45,254.16 L214.83,253.72 L215.22,253.27 L215.60,252.81 L215.98,252.36 L216.37,251.91 L216.75,251.48 L217.13,251.05 L217.52,250.63 L217.90,250.24 L218.28,249.86 L218.67,249.51 L219.05,249.18 L219.43,248.88 L219.82,248.61 L220.20,248.37 L220.58,248.17 L220.97,248.00 L221.35,247.87 L221.73,247.77 L222.12,247.72 L222.50,247.70 L222.88,247.72 L223.27,247.78 L223.65,247.88 L224.03,248.02 L224.42,248.19 L224.80,248.39 L225.18,248.64 L225.57,248.91 L225.95,249.21 L226.33,249.54 L226.72,249.90 L227.10,250.28 L227.48,250.68 L227.87,251.09 L228.25,251.52 L228.63,251.96 L229.02,252.41 L229.40,252.86 L229.78,253.31 L230.17,253.77 L230.55,254.21 L230.93,254.65 L231.32,255.07 L231.70,255.48 L232.08,255.87 L232.47,256.24 L232.85,256.59 L233.23,256.91 L233.62,257.20 L234.00,257.46 L234.38,257.69 L234.77,257.88 L235.15,258.04 L235.53,258.16 L235.92,258.25 L236.30,258.29 L236.68,258.30 L237.07,258.27 L237.45,258.19 L237.83,258.09 L238.22,257.94 L238.60,257.76 L238.98,257.54 L239.37,257.29 L239.75,257.01 L240.13,256.70 L240.52,256.36 L240.90,256.00 L241.28,255.61 L241.67,255.21 L242.05,254.79 L242.43,254.36 L242.82,253.91 L243.20,253.46 L243.58,253.01 L243.97,252.56 L244.35,252.11 L244.73,251.67 L245.12,251.23 L245.50,250.81 L245.88,250.41 L246.27,250.02 L246.65,249.66 L247.03,249.32 L247.42,249.01 L247.80,248.72 L248.18,248.47 L248.57,248.25 L248.95,248.07 L249.33,247.92 L249.72,247.81 L250.10,247.74 L250.48,247.70 L250.87,247.71 L251.25,247.75 L251.63,247.83 L252.02,247.95 L252.40,248.11 L252.78,248.30 L253.17,248.53 L253.55,248.79 L253.93,249.08 L254.32,249.40 L254.70,249.74 L255.08,250.11 L255.47,250.50 L255.85,250.91 L256.23,251.33 L256.62,251.77 L257.00,252.21 L257.38,252.66 L257.77,253.12 L258.15,253.57 L258.53,254.02 L258.92,254.46 L259.30,254.89 L259.68,255.30 L260.07,255.70 L260.45,256.08 L260.83,256.44 L261.22,256.77 L261.60,257.08 L261.98,257.35 L262.37,257.59 L262.75,257.80 L263.13,257.98 L263.52,258.11 L263.90,258.21 L264.28,258.28 L264.67,258.30 L265.05,258.28 L265.43,258.23 L265.82,258.14 L266.20,258.01 L266.58,257.84 L266.97,257.64 L267.35,257.40 L267.73,257.13 L268.12,256.84 L268.50,256.51 L268.88,256.16 L269.27,255.78 L269.65,255.39 L270.03,254.97 L270.42,254.55 L270.80,254.11 L271.18,253.66 L271.57,253.21 L271.95,252.75 L272.33,252.30 L272.72,251.86 L273.10,251.42 L273.48,250.99 L273.87,250.58 L274.25,250.19 L274.63,249.81 L275.02,249.46 L275.40,249.14 L275.78,248.84 L276.17,248.58 L276.55,248.34 L276.93,248.14 L277.32,247.98 L277.70,247.85 L278.08,247.76 L278.47,247.71 L278.85,247.70 L279.23,247.73 L279.62,247.79 L280.00,247.90 L280.38,248.04 L280.77,248.21 L281.15,248.42 L281.53,248.67 L281.92,248.95 L282.30,249.25 L282.68,249.59 L283.07,249.95 L283.45,250.33 L283.83,250.73 L284.22,251.15 L284.60,251.58 L284.98,252.02 L285.37,252.47 L285.75,252.92 L286.13,253.37 L286.52,253.82 L286.90,254.27 L287.28,254.70 L287.67,255.13 L288.05,255.53 L288.43,255.92 L288.82,256.29 L289.20,256.63 L289.58,256.95 L289.97,257.24 L290.35,257.49 L290.73,257.72 L291.12,257.91 L291.50,258.06 L291.88,258.18 L292.27,258.25 L292.65,258.29 L293.03,258.30 L293.42,258.26 L293.80,258.18 L294.18,258.07 L294.57,257.92 L294.95,257.73 L295.33,257.51 L295.72,257.26 L296.10,256.97 L296.48,256.66 L296.87,256.31 L297.25,255.95 L297.63,255.56 L298.02,255.16 L298.40,254.73 L298.78,254.30 L299.17,253.86 L299.55,253.41 L299.93,252.95 L300.32,252.50 L300.70,252.05 L301.08,251.61 L301.47,251.18 L301.85,250.76 L302.23,250.36 L302.62,249.97 L303.00,249.61" stroke="#3d1113" stroke-width="2.5" fill="none"/><path d="M211.00,248.52 L211.38,248.29 L211.77,248.10 L212.15,247.95 L212.53,247.83 L212.92,247.75 L213.30,247.71 L213.68,247.70 L214.07,247.74 L214.45,247.81 L214.83,247.93 L215.22,248.08 L215.60,248.26 L215.98,248.48 L216.37,248.73 L216.75,249.02 L217.13,249.33 L217.52,249.67 L217.90,250.04 L218.28,250.42 L218.67,250.83 L219.05,251.25 L219.43,251.68 L219.82,252.13 L220.20,252.58 L220.58,253.03 L220.97,253.48 L221.35,253.93 L221.73,254.38 L222.12,254.81 L222.50,255.23 L222.88,255.63 L223.27,256.01 L223.65,256.37 L224.03,256.71 L224.42,257.02 L224.80,257.30 L225.18,257.55 L225.57,257.77 L225.95,257.95 L226.33,258.09 L226.72,258.20 L227.10,258.27 L227.48,258.30 L227.87,258.29 L228.25,258.24 L228.63,258.16 L229.02,258.04 L229.40,257.88 L229.78,257.68 L230.17,257.45 L230.55,257.19 L230.93,256.90 L231.32,256.57 L231.70,256.23 L232.08,255.86 L232.47,255.46 L232.85,255.05 L233.23,254.63 L233.62,254.19 L234.00,253.75 L234.38,253.29 L234.77,252.84 L235.15,252.39 L235.53,251.94 L235.92,251.50 L236.30,251.07 L236.68,250.66 L237.07,250.26 L237.45,249.88 L237.83,249.53 L238.22,249.20 L238.60,248.90 L238.98,248.62 L239.37,248.39 L239.75,248.18 L240.13,248.01 L240.52,247.87 L240.90,247.78 L241.28,247.72 L241.67,247.70 L242.05,247.72 L242.43,247.78 L242.82,247.87 L243.20,248.01 L243.58,248.18 L243.97,248.38 L244.35,248.62 L244.73,248.89 L245.12,249.19 L245.50,249.52 L245.88,249.88 L246.27,250.25 L246.65,250.65 L247.03,251.07 L247.42,251.49 L247.80,251.93 L248.18,252.38 L248.57,252.83 L248.95,253.29 L249.33,253.74 L249.72,254.18 L250.10,254.62 L250.48,255.05 L250.87,255.46 L251.25,255.85 L251.63,256.22 L252.02,256.57 L252.40,256.89 L252.78,257.18 L253.17,257.45 L253.55,257.68 L253.93,257.87 L254.32,258.03 L254.70,258.16 L255.08,258.24 L255.47,258.29 L255.85,258.30 L256.23,258.27 L256.62,258.20 L257.00,258.09 L257.38,257.95 L257.77,257.77 L258.15,257.55 L258.53,257.31 L258.92,257.03 L259.30,256.72 L259.68,256.38 L260.07,256.02 L260.45,255.64 L260.83,255.23 L261.22,254.81 L261.60,254.38 L261.98,253.94 L262.37,253.49 L262.75,253.04 L263.13,252.59 L263.52,252.14 L263.90,251.69 L264.28,251.26 L264.67,250.84 L265.05,250.43 L265.43,250.04 L265.82,249.68 L266.20,249.34 L266.58,249.02 L266.97,248.74 L267.35,248.49 L267.73,248.26 L268.12,248.08 L268.50,247.93 L268.88,247.82 L269.27,247.74 L269.65,247.70 L270.03,247.71 L270.42,247.75 L270.80,247.83 L271.18,247.94 L271.57,248.10 L271.95,248.29 L272.33,248.51 L272.72,248.77 L273.10,249.06 L273.48,249.38 L273.87,249.72 L274.25,250.09 L274.63,250.48 L275.02,250.88 L275.40,251.31 L275.78,251.74 L276.17,252.19 L276.55,252.64 L276.93,253.09 L277.32,253.54 L277.70,253.99 L278.08,254.43 L278.47,254.86 L278.85,255.28 L279.23,255.68 L279.62,256.06 L280.00,256.42 L280.38,256.75 L280.77,257.06 L281.15,257.34 L281.53,257.58 L281.92,257.79 L282.30,257.97 L282.68,258.11 L283.07,258.21 L283.45,258.27 L283.83,258.30 L284.22,258.29 L284.60,258.23 L284.98,258.14 L285.37,258.02 L285.75,257.85 L286.13,257.65 L286.52,257.42 L286.90,257.15 L287.28,256.85 L287.67,256.53 L288.05,256.18 L288.43,255.81 L288.82,255.41 L289.20,255.00 L289.58,254.57 L289.97,254.13 L290.35,253.69 L290.73,253.24 L291.12,252.78 L291.50,252.33 L291.88,251.88 L292.27,251.44 L292.65,251.02 L293.03,250.60 L293.42,250.21 L293.80,249.83 L294.18,249.48 L294.57,249.16 L294.95,248.86 L295.33,248.59 L295.72,248.36 L296.10,248.15 L296.48,247.99 L296.87,247.86 L297.25,247.77 L297.63,247.71 L298.02,247.70 L298.40,247.72 L298.78,247.79 L299.17,247.89 L299.55,248.03 L299.93,248.20 L300.32,248.41 L300.70,248.65 L301.08,248.93 L301.47,249.23 L301.85,249.57 L302.23,249.92 L302.62,250.30 L303.00,250.70" stroke="#7c1517" stroke-width="2.5" fill="none"/>
<path d="M740.00,256.13 L740.38,256.48 L740.76,256.81 L741.14,257.11 L741.52,257.37 L741.90,257.61 L742.27,257.82 L742.65,257.99 L743.03,258.12 L743.41,258.22 L743.79,258.28 L744.17,258.30 L744.55,258.28 L744.93,258.23 L745.31,258.14 L745.69,258.01 L746.07,257.85 L746.45,257.65 L746.83,257.42 L747.20,257.16 L747.58,256.86 L747.96,256.54 L748.34,256.20 L748.72,255.83 L749.10,255.44 L749.48,255.03 L749.86,254.61 L750.24,254.18 L750.62,253.74 L751.00,253.29 L751.38,252.84 L751.75,252.40 L752.13,251.95 L752.51,251.52 L752.89,251.09 L753.27,250.68 L753.65,250.29 L754.03,249.91 L754.41,249.56 L754.79,249.23 L755.17,248.93 L755.55,248.66 L755.92,248.42 L756.30,248.21 L756.68,248.03 L757.06,247.89 L757.44,247.79 L757.82,247.73 L758.20,247.70 L758.58,247.71 L758.96,247.76 L759.34,247.85 L759.72,247.97 L760.10,248.13 L760.48,248.32 L760.85,248.55 L761.23,248.81 L761.61,249.10 L761.99,249.42 L762.37,249.76 L762.75,250.13 L763.13,250.51 L763.51,250.92 L763.89,251.34 L764.27,251.77 L764.65,252.21 L765.02,252.65 L765.40,253.10 L765.78,253.55 L766.16,253.99 L766.54,254.43 L766.92,254.86 L767.30,255.27 L767.68,255.67 L768.06,256.04 L768.44,256.40 L768.82,256.73 L769.20,257.04 L769.58,257.31 L769.95,257.56 L770.33,257.77 L770.71,257.95 L771.09,258.09 L771.47,258.20 L771.85,258.27 L772.23,258.30 L772.61,258.29 L772.99,258.25 L773.37,258.17 L773.75,258.05 L774.12,257.89 L774.50,257.70 L774.88,257.48 L775.26,257.22 L775.64,256.94 L776.02,256.62 L776.40,256.28 L776.78,255.92 L777.16,255.54 L777.54,255.13 L777.92,254.71 L778.30,254.28 L778.67,253.85 L779.05,253.40 L779.43,252.95 L779.81,252.50 L780.19,252.06 L780.57,251.62 L780.95,251.19 L781.33,250.78 L781.71,250.38 L782.09,250.00 L782.47,249.64 L782.85,249.31 L783.23,249.00 L783.60,248.72 L783.98,248.47 L784.36,248.25 L784.74,248.07 L785.12,247.92 L785.50,247.81 L785.88,247.74 L786.26,247.70 L786.64,247.71 L787.02,247.75 L787.40,247.82 L787.77,247.94 L788.15,248.09 L788.53,248.27 L788.91,248.49 L789.29,248.74 L789.67,249.03 L790.05,249.34 L790.43,249.67 L790.81,250.04 L791.19,250.42 L791.57,250.82 L791.95,251.23 L792.33,251.66 L792.70,252.10 L793.08,252.55 L793.46,252.99 L793.84,253.44 L794.22,253.89 L794.60,254.33 L794.98,254.75 L795.36,255.17 L795.74,255.57 L796.12,255.95 L796.50,256.32 L796.88,256.65 L797.25,256.96 L797.63,257.25 L798.01,257.50 L798.39,257.72 L798.77,257.91 L799.15,258.06 L799.53,258.17 L799.91,258.25 L800.29,258.29 L800.67,258.30 L801.05,258.26 L801.42,258.19 L801.80,258.08 L802.18,257.93 L802.56,257.75 L802.94,257.54 L803.32,257.29 L803.70,257.01 L804.08,256.70 L804.46,256.37 L804.84,256.01 L805.22,255.63 L805.60,255.23 L805.98,254.82 L806.35,254.39 L806.73,253.95 L807.11,253.51 L807.49,253.06 L807.87,252.61 L808.25,252.17 L808.63,251.73 L809.01,251.30 L809.39,250.88 L809.77,250.48 L810.15,250.09 L810.52,249.73 L810.90,249.39 L811.28,249.07 L811.66,248.78 L812.04,248.53 L812.42,248.30 L812.80,248.11 L813.18,247.96 L813.56,247.84 L813.94,247.75 L814.32,247.71 L814.70,247.70 L815.08,247.73 L815.45,247.80 L815.83,247.91 L816.21,248.05 L816.59,248.23 L816.97,248.44 L817.35,248.68 L817.73,248.96 L818.11,249.26 L818.49,249.59 L818.87,249.95 L819.25,250.32 L819.62,250.72 L820.00,251.13 L820.38,251.56 L820.76,251.99 L821.14,252.44 L821.52,252.89 L821.90,253.33 L822.28,253.78 L822.66,254.22 L823.04,254.65 L823.42,255.07 L823.80,255.48 L824.17,255.86 L824.55,256.23 L824.93,256.57 L825.31,256.89 L825.69,257.18 L826.07,257.44 L826.45,257.67 L826.83,257.87 L827.21,258.03 L827.59,258.15 L827.97,258.24 L828.35,258.29 L828.73,258.30 L829.10,258.27 L829.48,258.21 L829.86,258.11 L830.24,257.97 L830.62,257.80 L831.00,257.59" stroke="#3d1113" stroke-width="2.5" fill="none"/><path d="M740.00,255.58 L740.38,255.18 L740.76,254.77 L741.14,254.34 L741.52,253.90 L741.90,253.46 L742.27,253.01 L742.65,252.56 L743.03,252.12 L743.41,251.68 L743.79,251.25 L744.17,250.83 L744.55,250.43 L744.93,250.05 L745.31,249.69 L745.69,249.35 L746.07,249.04 L746.45,248.75 L746.83,248.50 L747.20,248.28 L747.58,248.09 L747.96,247.94 L748.34,247.83 L748.72,247.75 L749.10,247.71 L749.48,247.70 L749.86,247.74 L750.24,247.81 L750.62,247.92 L751.00,248.07 L751.38,248.25 L751.75,248.46 L752.13,248.71 L752.51,248.99 L752.89,249.30 L753.27,249.63 L753.65,249.99 L754.03,250.37 L754.41,250.77 L754.79,251.18 L755.17,251.61 L755.55,252.05 L755.92,252.49 L756.30,252.94 L756.68,253.39 L757.06,253.83 L757.44,254.27 L757.82,254.70 L758.20,255.12 L758.58,255.52 L758.96,255.91 L759.34,256.27 L759.72,256.61 L760.10,256.93 L760.48,257.21 L760.85,257.47 L761.23,257.70 L761.61,257.89 L761.99,258.04 L762.37,258.16 L762.75,258.25 L763.13,258.29 L763.51,258.30 L763.89,258.27 L764.27,258.20 L764.65,258.09 L765.02,257.95 L765.40,257.78 L765.78,257.56 L766.16,257.32 L766.54,257.05 L766.92,256.74 L767.30,256.41 L767.68,256.06 L768.06,255.68 L768.44,255.28 L768.82,254.87 L769.20,254.44 L769.58,254.01 L769.95,253.56 L770.33,253.12 L770.71,252.67 L771.09,252.22 L771.47,251.78 L771.85,251.35 L772.23,250.93 L772.61,250.53 L772.99,250.14 L773.37,249.77 L773.75,249.43 L774.12,249.11 L774.50,248.82 L774.88,248.56 L775.26,248.33 L775.64,248.14 L776.02,247.97 L776.40,247.85 L776.78,247.76 L777.16,247.71 L777.54,247.70 L777.92,247.73 L778.30,247.79 L778.67,247.89 L779.05,248.03 L779.43,248.20 L779.81,248.41 L780.19,248.65 L780.57,248.92 L780.95,249.22 L781.33,249.55 L781.71,249.90 L782.09,250.27 L782.47,250.67 L782.85,251.08 L783.23,251.50 L783.60,251.94 L783.98,252.38 L784.36,252.83 L784.74,253.28 L785.12,253.72 L785.50,254.16 L785.88,254.60 L786.26,255.02 L786.64,255.43 L787.02,255.82 L787.40,256.19 L787.77,256.53 L788.15,256.85 L788.53,257.15 L788.91,257.41 L789.29,257.64 L789.67,257.84 L790.05,258.01 L790.43,258.14 L790.81,258.23 L791.19,258.28 L791.57,258.30 L791.95,258.28 L792.33,258.22 L792.70,258.12 L793.08,257.99 L793.46,257.82 L793.84,257.62 L794.22,257.38 L794.60,257.11 L794.98,256.82 L795.36,256.49 L795.74,256.14 L796.12,255.77 L796.50,255.38 L796.88,254.97 L797.25,254.55 L797.63,254.11 L798.01,253.67 L798.39,253.23 L798.77,252.78 L799.15,252.33 L799.53,251.89 L799.91,251.45 L800.29,251.03 L800.67,250.62 L801.05,250.23 L801.42,249.86 L801.80,249.51 L802.18,249.18 L802.56,248.89 L802.94,248.62 L803.32,248.38 L803.70,248.18 L804.08,248.01 L804.46,247.88 L804.84,247.78 L805.22,247.72 L805.60,247.70 L805.98,247.72 L806.35,247.77 L806.73,247.86 L807.11,247.99 L807.49,248.16 L807.87,248.36 L808.25,248.59 L808.63,248.85 L809.01,249.15 L809.39,249.47 L809.77,249.81 L810.15,250.18 L810.52,250.57 L810.90,250.98 L811.28,251.40 L811.66,251.83 L812.04,252.27 L812.42,252.72 L812.80,253.17 L813.18,253.62 L813.56,254.06 L813.94,254.49 L814.32,254.92 L814.70,255.33 L815.08,255.72 L815.45,256.10 L815.83,256.45 L816.21,256.78 L816.59,257.08 L816.97,257.35 L817.35,257.59 L817.73,257.80 L818.11,257.97 L818.49,258.11 L818.87,258.21 L819.25,258.27 L819.62,258.30 L820.00,258.29 L820.38,258.24 L820.76,258.15 L821.14,258.03 L821.52,257.87 L821.90,257.67 L822.28,257.44 L822.66,257.18 L823.04,256.89 L823.42,256.57 L823.80,256.23 L824.17,255.86 L824.55,255.48 L824.93,255.07 L825.31,254.65 L825.69,254.22 L826.07,253.78 L826.45,253.33 L826.83,252.89 L827.21,252.44 L827.59,251.99 L827.97,251.56 L828.35,251.13 L828.73,250.72 L829.10,250.32 L829.48,249.95 L829.86,249.59 L830.24,249.26 L830.62,248.96 L831.00,248.68" stroke="#7c1517" stroke-width="2.5" fill="none"/>
<path d="M816,115.7 L887,115.7 L833,145" stroke="#8b3a1a" stroke-width="3.2" fill="none" stroke-linejoin="bevel"/>
<path d="M818.5,155.6 L830.7,136.4 L841.3,153.8 Z" fill="#8b3a1a"/>
<path d="M816,193.7 L887,193.7 L833,223" stroke="#8b3a1a" stroke-width="3.2" fill="none" stroke-linejoin="bevel"/>
<path d="M818.5,233.6 L830.7,214.4 L841.3,231.8 Z" fill="#8b3a1a"/>
<rect x="0" y="317" width="996" height="2" fill="#a96a5a"/>
<rect x="0" y="613" width="996" height="2" fill="#a96a5a"/>
<text x="22" y="366.2" font-size="33" letter-spacing="0.71" fill="#231f20" font-family="Liberation Sans, sans-serif">Genotyping Ancient CCR5delta32 Genomes</text>
<rect x="208" y="425.5" width="627" height="2" fill="#9a9b9d"/>
<rect x="449" y="424" width="147" height="5" fill="#939598"/>
<path d="M451,427 L521,478 M591,427 L529,478" stroke="#8a8b8d" stroke-width="1.2" fill="none"/>
<rect x="208" y="479.5" width="627" height="2" fill="#8e3b1b"/>
<rect x="248.2" y="466.6" width="16.8" height="29.1" fill="#843b1b"/>
<rect x="365" y="466.6" width="16.8" height="29.1" fill="#843b1b"/>
<rect x="655" y="466.6" width="16.8" height="29.1" fill="#843b1b"/>
<rect x="772" y="466.6" width="16.8" height="29.1" fill="#843b1b"/>
<path d="M525,454 Q527.5,470 531,476.5 Q538,479.5 551.7,482 Q538,484.5 531,487.5 Q527.5,494 525,509.6 Q522.5,494 519,487.5 Q512,484.5 498.7,482 Q512,479.5 519,476.5 Q522.5,470 525,454 Z" fill="#fbb817" stroke="#e9a31b" stroke-width="0.7"/>
<text x="53.8" y="475.1" font-size="20" letter-spacing="0.55" fill="#231f20" font-family="Liberation Sans, sans-serif">CCR5delta32</text>
<text x="69.3" y="497.9" font-size="20" letter-spacing="0.68" fill="#231f20" font-family="Liberation Sans, sans-serif">Haplotype</text>
<text x="467" y="530.5" font-size="20" letter-spacing="0.55" fill="#231f20" font-family="Liberation Sans, sans-serif">CCR5delta32</text>
<text x="175.9" y="575.2" font-size="28" letter-spacing="-0.05" fill="#231f20" font-family="Liberation Sans, sans-serif">Probability = Prior (tag SNPs) × Likelihood (read coverage)</text>
<text x="23.7" y="665.9" font-size="33" letter-spacing="0.63" fill="#231f20" font-family="Liberation Sans, sans-serif">Evolutionary Trajectory of the CCR5delta32 Haplotype</text>
<g fill="#bfbbba" stroke="none">
<path d="M20.8,718.9 L29.5,717.5 L36.7,716.3 L46.3,717.5 L54.8,719.5 L56.6,721.3 L62.0,721.6 L65.6,724.3 L69.2,721.9 L77.7,721.3 L84.9,719.5 L92.1,719.5 L95.7,715.3 L99.3,713.5 L101.7,718.3 L104.2,721.3 L110.2,720.1 L115.0,717.7 L116.2,719.5 L109.0,723.7 L98.1,726.1 L93.3,728.6 L82.5,733.4 L75.2,738.2 L74.0,743.0 L77.7,746.6 L87.3,751.4 L90.9,755.7 L90.3,759.9 L93.3,761.1 L98.1,755.1 L104.2,747.8 L110.2,740.6 L116.2,736.4 L121.0,735.8 L124.1,739.0 L125.3,743.3 L127.7,743.9 L134.9,740.2 L135.5,745.1 L136.7,752.9 L142.2,755.3 L142.2,757.7 L136.1,760.1 L128.9,763.1 L118.1,765.5 L109.0,769.8 L116.9,768.6 L119.9,768.0 L118.1,772.2 L121.7,775.8 L124.1,776.4 L114.5,780.0 L106.0,781.8 L100.0,784.2 L92.1,790.1 L84.9,794.9 L82.5,798.6 L81.3,803.4 L75.2,808.2 L68.0,813.0 L65.6,816.6 L65.0,822.7 L64.4,828.7 L62.0,825.1 L61.4,817.8 L56.0,816.0 L48.7,817.2 L43.9,819.0 L36.7,817.8 L29.5,821.4 L24.6,827.5 L22.8,832.3 L22.2,834.8 L23.4,842.0 L27.0,847.5 L33.1,848.7 L37.9,845.7 L40.9,840.8 L45.7,841.4 L45.1,844.5 L43.3,851.7 L45.1,855.3 L51.1,856.5 L52.3,861.3 L53.6,868.6 L57.2,872.2 L63.2,872.8 L68.0,874.6 L75.2,869.8 L80.1,866.1 L82.5,871.0 L83.7,867.3 L89.7,867.3 L99.3,871.0 L109.0,875.8 L117.4,881.8 L125.8,883.0 L131.4,888.4 L132.8,895.5 L128.6,901.1 L134.2,898.3 L137.0,901.1 L142.6,901.1 L146.8,905.3 L156.7,906.0 L166.5,909.5 L170.7,915.1 L166.5,925.0 L162.3,933.4 L160.9,946.1 L156.7,954.5 L146.8,960.1 L142.6,965.7 L141.2,970.0 L89.2,970.0 L88.5,948.9 L82.2,940.4 L72.3,930.6 L65.3,920.8 L58.3,910.9 L59.7,901.1 L61.1,894.1 L66.7,880.0 L66.8,880.6 L65.6,875.8 L58.4,875.8 L52.3,872.2 L48.7,866.1 L43.9,861.3 L35.5,857.7 L27.0,854.1 L21.0,854.1 L20.8,854.0 L20.8,718.9Z"/>
<path d="M153.6,700.1 L160.8,697.0 L172.8,693.4 L187.3,692.5 L211.4,692.2 L215.0,692.5 L243.3,693.2 L235.5,696.4 L231.9,700.7 L229.5,705.5 L222.2,710.3 L224.6,713.9 L219.8,715.1 L221.0,717.5 L215.0,718.1 L211.4,717.5 L199.3,719.9 L187.3,724.8 L182.5,729.6 L177.7,735.6 L174.0,736.8 L168.0,733.2 L166.2,727.2 L169.2,721.1 L174.0,715.1 L171.6,707.9 L165.6,701.9 L154.8,701.3Z"/>
<path d="M238.6,796.1 L239.8,781.7 L246.0,780.0 L252.0,777.5 L251.0,771.0 L258.0,768.0 L265.0,763.0 L268.0,760.4 L276.1,756.4 L285.7,754.0 L296.1,752.4 L303.4,750.8 L306.6,747.6 L309.8,744.4 L317.8,741.1 L316.2,739.5 L305.8,738.7 L304.2,735.5 L307.4,729.1 L305.0,726.7 L300.2,731.5 L295.3,737.1 L293.7,741.9 L292.1,746.8 L288.9,749.2 L285.7,746.8 L283.3,741.9 L277.7,744.4 L273.7,741.9 L272.9,737.1 L276.1,733.9 L284.1,729.1 L290.5,722.7 L296.9,717.9 L306.6,715.4 L316.2,716.2 L324.3,719.5 L333.9,721.1 L336.3,723.5 L326.7,724.3 L329.6,729.4 L336.1,728.6 L342.5,725.3 L348.9,722.1 L361.8,719.7 L373.0,718.9 L384.3,720.5 L393.9,724.5 L392.3,714.1 L403.5,709.3 L416.4,706.1 L429.2,702.9 L445.3,702.9 L448.5,706.1 L445.3,709.3 L476.6,709.3 L476.3,837.2 L465.0,839.0 L465.0,841.6 L457.8,849.8 L451.5,856.2 L450.6,863.4 L448.8,871.5 L445.2,874.2 L442.4,870.6 L437.9,858.0 L433.4,848.0 L431.6,839.0 L428.0,840.8 L423.5,839.0 L420.8,835.4 L415.4,829.9 L400.0,829.0 L396.2,830.3 L390.6,827.5 L386.4,830.3 L380.8,827.5 L375.1,821.8 L372.3,817.6 L379.4,830.3 L385.0,833.1 L396.2,835.9 L399.0,840.1 L389.2,850.0 L375.1,858.4 L363.9,864.0 L361.1,852.1 L352.9,838.7 L344.2,819.0 L340.7,801.1 L334.3,800.3 L326.2,798.7 L319.8,791.5 L315.0,791.5 L310.2,793.9 L310.2,797.9 L308.6,797.1 L307.8,792.3 L303.7,789.1 L296.5,783.5 L286.1,777.9 L280.8,781.7 L271.1,782.9 L263.9,786.5 L259.1,792.5 L256.7,797.3 L247.0,800.4Z"/>
<path d="M238.6,807.6 L244.3,803.8 L259.6,801.9 L280.6,801.0 L282.5,807.6 L293.9,811.4 L303.5,815.3 L307.3,811.4 L316.8,814.3 L332.1,815.3 L335.9,818.1 L341.2,832.4 L350.6,849.6 L359.6,863.0 L370.2,866.8 L379.8,868.7 L376.0,878.2 L366.4,891.6 L355.0,906.8 L351.2,914.5 L355.0,925.9 L353.1,939.3 L343.5,952.6 L341.6,958.3 L335.9,966.0 L334.0,969.8 L293.9,969.8 L290.1,950.7 L286.3,937.4 L290.1,922.1 L284.4,908.7 L279.6,899.2 L278.7,889.7 L271.0,883.9 L265.3,881.1 L248.2,883.9 L232.9,882.0 L223.4,872.5 L216.7,861.0 L217.6,847.7 L217.6,836.2 L225.3,826.7 L232.9,815.3Z"/>
<path d="M237.4,808.2 L244.6,803.4 L259.1,801.6 L270.0,799.5 L280.4,799.5 L282.0,803.6 L286.1,808.4 L296.5,811.6 L304.5,813.2 L306.9,810.8 L318.2,812.4 L339.9,813.2 L341.0,818.0Z"/>
<path d="M60.0,707.1 L66.0,707.6 L72.0,711.1 L80.1,710.1 L82.6,712.1 L81.6,715.1 L78.1,717.1 L70.0,718.1 L64.0,716.1 L60.0,715.1 L56.6,715.9 L51.1,713.5 L54.8,709.3 L60.8,708.1Z"/>
<path d="M90.9,711.1 L96.9,708.1 L99.3,709.3 L93.3,712.3Z"/>
<path d="M101.7,709.9 L107.8,707.8 L110.2,709.0 L104.2,711.1Z"/>
<path d="M87.3,718.3 L92.1,716.7 L92.7,718.3 L88.5,719.5Z"/>
<path d="M100.5,729.2 L104.2,727.3 L107.8,729.2 L105.4,730.4Z"/>
<path d="M109.2,713.1 L111.2,712.1 L117.2,709.1 L125.3,709.6 L132.3,713.1 L139.3,718.1 L145.3,723.1 L144.3,726.2 L138.3,725.1 L134.3,721.1 L130.3,718.1 L125.3,716.1 L119.2,715.1 L112.2,715.1Z"/>
<path d="M117.2,728.2 L125.3,726.2 L132.3,725.1 L137.3,727.2 L138.3,731.2 L134.3,733.2 L130.3,731.2 L126.3,729.2 L120.2,729.2Z"/>
<path d="M125.3,701.1 L132.3,698.0 L137.3,696.0 L138.3,692.5 L160.4,692.0 L160.4,693.5 L150.4,695.0 L145.3,697.0 L138.3,700.0 L132.3,702.1Z"/>
<path d="M135.5,693.7 L151.1,692.5 L163.2,692.8 L151.1,694.6 L137.9,695.2Z"/>
<path d="M115.0,703.1 L122.2,703.1 L130.7,704.3 L127.0,706.1 L115.0,705.5Z"/>
<path d="M121.0,695.2 L125.8,694.0 L128.3,695.8 L123.4,696.8Z"/>
<path d="M113.8,703.9 L123.4,703.3 L130.7,705.1 L123.4,706.3 L115.0,705.7Z"/>
<path d="M121.0,695.4 L127.0,694.2 L128.9,696.0 L122.2,696.6Z"/>
<path d="M54.8,837.8 L63.2,836.6 L71.6,840.2 L77.0,843.5 L72.8,844.1 L65.6,841.1 L57.2,839.0Z"/>
<path d="M78.3,847.8 L84.9,845.1 L90.3,846.9 L87.3,848.3 L80.1,848.9Z"/>
<path d="M133.1,769.8 L139.2,763.7 L144.6,768.6 L142.2,770.1Z"/>
<path d="M282.5,697.7 L292.1,697.0 L299.3,696.4 L306.6,697.7 L301.7,699.5 L304.2,702.5 L298.1,701.3 L293.3,704.3 L289.7,702.5 L286.1,699.5Z"/>
<path d="M240.5,758.0 L243.0,753.5 L248.0,752.2 L247.5,756.5 L242.5,760.5Z"/>
<path d="M251.1,747.1 L253.1,745.1 L255.1,747.1 L254.6,752.2 L258.1,757.2 L260.1,761.2 L254.1,763.2 L251.1,762.2 L252.1,759.2 L251.1,754.2Z"/>
<path d="M356.1,712.5 L361.8,706.1 L376.2,703.7 L366.6,708.5 L362.6,714.9Z"/>
<path d="M406.7,695.6 L416.4,697.2 L426.8,701.2 L416.4,699.6Z"/>
<path d="M376.0,931.6 L377.9,937.4 L372.2,952.6 L366.4,964.1 L361.7,962.2 L362.6,950.7 L368.3,941.2Z"/>
<path d="M452.0,873.3 L455.1,877.8 L454.2,880.5 L452.4,879.6Z"/>
</g><g fill="#fff">
<path d="M60.8,772.0 L66.8,769.6 L74.0,769.0 L75.2,771.4 L70.4,773.3 L65.6,773.9 L62.0,773.9Z"/>
<path d="M66.8,775.7 L69.8,776.9 L67.4,781.7 L64.4,786.3 L62.3,784.7 L63.8,780.5Z"/>
<path d="M74.0,773.3 L80.1,775.1 L82.5,778.1 L77.7,779.9 L75.2,776.9Z"/>
<path d="M74.0,785.9 L80.1,783.5 L79.1,785.5 L75.2,787.3Z"/>
<path d="M84.9,781.1 L88.5,780.2 L89.5,782.0 L86.1,782.5Z"/>
<path d="M321.2,785.1 L323.0,779.0 L326.0,774.5 L332.0,774.5 L335.0,776.0 L336.5,778.5 L338.5,776.0 L342.5,772.0 L344.0,776.0 L349.0,779.0 L350.5,783.0 L349.0,787.0 L340.0,786.5 L330.0,786.3Z"/>
<path d="M366.7,774.1 L373.7,773.4 L375.1,778.3 L372.3,782.5 L379.4,788.1 L380.8,796.5 L376.5,800.8 L370.9,796.5 L369.5,788.1 L366.7,782.5Z"/>
</g><defs>
<linearGradient id="fg0" gradientUnits="userSpaceOnUse" x1="206.2" y1="774.4" x2="86.1" y2="800.9"><stop offset="0" stop-color="#111" stop-opacity="0"/><stop offset="0.3" stop-color="#111" stop-opacity="0.9"/><stop offset="1" stop-color="#111"/></linearGradient>
<linearGradient id="fg1" gradientUnits="userSpaceOnUse" x1="207.6" y1="779.4" x2="82.5" y2="839.1"><stop offset="0" stop-color="#111" stop-opacity="0"/><stop offset="0.3" stop-color="#111" stop-opacity="0.9"/><stop offset="1" stop-color="#111"/></linearGradient>
<linearGradient id="fg2" gradientUnits="userSpaceOnUse" x1="211.9" y1="787.8" x2="119.8" y2="871.6"><stop offset="0" stop-color="#111" stop-opacity="0"/><stop offset="0.3" stop-color="#111" stop-opacity="0.9"/><stop offset="1" stop-color="#111"/></linearGradient>
<linearGradient id="fg3" gradientUnits="userSpaceOnUse" x1="215.4" y1="800.4" x2="167.7" y2="898.9"><stop offset="0" stop-color="#111" stop-opacity="0"/><stop offset="0.3" stop-color="#111" stop-opacity="0.9"/><stop offset="1" stop-color="#111"/></linearGradient>
<linearGradient id="gl" gradientUnits="userSpaceOnUse" x1="268" y1="745" x2="175" y2="736"><stop offset="0" stop-color="#111" stop-opacity="0"/><stop offset="0.35" stop-color="#111" stop-opacity="0.95"/><stop offset="1" stop-color="#111"/></linearGradient>
<linearGradient id="bund" gradientUnits="userSpaceOnUse" x1="350" y1="765" x2="290" y2="765"><stop offset="0" stop-color="#222" stop-opacity="0.25"/><stop offset="0.4" stop-color="#1a1a1a" stop-opacity="0.95"/><stop offset="1" stop-color="#1a1a1a"/></linearGradient>
<linearGradient id="wf" gradientUnits="userSpaceOnUse" x1="352" y1="765" x2="300" y2="765"><stop offset="0" stop-color="#151515" stop-opacity="0.15"/><stop offset="0.55" stop-color="#151515" stop-opacity="0.9"/><stop offset="1" stop-color="#151515"/></linearGradient>
<linearGradient id="nf" gradientUnits="userSpaceOnUse" x1="352" y1="765" x2="325" y2="745"><stop offset="0" stop-color="#151515" stop-opacity="0.2"/><stop offset="1" stop-color="#151515"/></linearGradient>
</defs>
<path d="M206.01,773.52 L90.68,798.46 L91.28,801.19 L206.39,775.28Z" fill="url(#fg0)"/>
<path d="M86.10,800.90 L91.74,796.28 L91.30,799.75 L93.16,802.72Z" fill="#111"/>
<path d="M207.21,778.59 L86.41,835.68 L87.62,838.21 L207.99,780.21Z" fill="url(#fg1)"/>
<path d="M82.50,839.10 L86.94,833.32 L87.31,836.80 L89.79,839.28Z" fill="#111"/>
<path d="M211.29,787.13 L122.56,867.20 L124.44,869.27 L212.51,788.47Z" fill="url(#fg2)"/>
<path d="M119.80,871.60 L122.39,864.78 L123.74,868.01 L126.83,869.67Z" fill="#111"/>
<path d="M214.59,800.01 L168.62,893.79 L171.14,895.01 L216.21,800.79Z" fill="url(#fg3)"/>
<path d="M167.70,898.90 L167.56,891.61 L170.02,894.10 L173.50,894.49Z" fill="#111"/>
<path d="M268.4,745.7 C252,735 236,727.5 218,727 C200,727.5 186,731.5 178,735" stroke="url(#gl)" stroke-width="2.4" fill="none"/>
<path d="M175.10,736.10 L179.84,730.56 L180.02,734.06 L182.37,736.66Z" fill="#111"/>
<path d="M348,765.5 C330,765 310,765 292,765.5" stroke="url(#bund)" stroke-width="6" fill="none"/>
<path d="M350,765.5 C320,765 300,764.5 285,764.5 C272,764 264,761 260.5,759.5" stroke="url(#wf)" stroke-width="2.3" fill="none" stroke-linecap="butt"/>
<path d="M258.30,758.60 L265.55,757.80 L263.29,760.48 L263.22,763.98Z" fill="#111"/>
<path d="M350,765 C320,764.5 300,763.5 292,762 C285,760 281.5,757 280.8,755.5" stroke="url(#wf)" stroke-width="2.3" fill="none" stroke-linecap="butt"/>
<path d="M280.10,753.70 L285.79,758.26 L282.30,758.56 L279.78,760.98Z" fill="#111"/>
<path d="M350,766 C320,766 295,767 280,771 C266,776 257,783 252.5,788" stroke="url(#wf)" stroke-width="2.3" fill="none" stroke-linecap="butt"/>
<path d="M250.50,790.20 L252.93,783.33 L254.36,786.52 L257.48,788.10Z" fill="#111"/>
<path d="M350,766 C320,766 300,768 292,771.5 C286,775 286.5,781 288.2,784.5" stroke="url(#wf)" stroke-width="2.3" fill="none" stroke-linecap="butt"/>
<path d="M289.20,786.70 L283.71,781.90 L287.21,781.76 L289.83,779.44Z" fill="#111"/>
<path d="M352,764.5 C335,760 320,753 305,747 C298,744 293,741.5 290,740" stroke="url(#nf)" stroke-width="2.3" fill="none" stroke-linecap="butt"/>
<path d="M287.80,738.90 L295.09,738.86 L292.57,741.28 L292.14,744.76Z" fill="#111"/>
<path d="M352,763.5 C338,756 328,750 323,742 C320,737 318,733 317.2,731" stroke="url(#nf)" stroke-width="2.3" fill="none" stroke-linecap="butt"/>
<path d="M316.60,729.10 L321.85,734.16 L318.35,734.13 L315.62,736.32Z" fill="#111"/>
<path d="M362,752 C362,747 361.5,742 361.3,739.5" stroke="#151515" stroke-width="2.3" fill="none" stroke-linecap="butt"/>
<path d="M361.10,737.10 L364.80,743.38 L361.44,742.42 L358.22,743.80Z" fill="#111"/>
<path d="M366,762 C378,759 386,753 385.8,742.5" stroke="#151515" stroke-width="2.3" fill="none" stroke-linecap="butt"/>
<path d="M385.70,740.20 L389.25,746.57 L385.90,745.53 L382.65,746.82Z" fill="#111"/>
<path d="M375,765.8 C392,765 405,755 422.5,735.8" stroke="#151515" stroke-width="2.3" fill="none" stroke-linecap="butt"/>
<path d="M424.30,733.60 L422.47,740.66 L420.77,737.60 L417.52,736.29Z" fill="#111"/>
<path d="M361.8,750.0 Q363.62,756.61 366.0,760.8 Q369.43,763.48 375.0,765.6 Q369.43,767.70 366.0,770.4 Q363.62,774.30 361.8,780.6 Q359.93,774.30 357.6,770.4 Q353.94,767.70 348.2,765.6 Q353.94,763.48 357.6,760.8 Q359.93,756.61 361.8,750.0Z" fill="#f6b143" stroke="#8a3c12" stroke-width="1.7" stroke-linejoin="miter"/>
<rect x="594.5" y="727.6" width="3.2" height="173.5" fill="#1a1a1a"/>
<rect x="594" y="898.5" width="359" height="3" fill="#1a1a1a"/>
<rect x="585.4" y="740.2" width="9.5" height="1.2" fill="#9a9a9a"/>
<text x="550.4" y="746.4" font-size="17.5" letter-spacing="0.12" fill="#231f20" font-family="Liberation Sans, sans-serif">0.15</text>
<rect x="585.4" y="788.4" width="9.5" height="1.2" fill="#9a9a9a"/>
<text x="550.4" y="794.6" font-size="17.5" letter-spacing="0.12" fill="#231f20" font-family="Liberation Sans, sans-serif">0.10</text>
<rect x="585.4" y="836.6" width="9.5" height="1.2" fill="#9a9a9a"/>
<text x="550.4" y="842.8" font-size="17.5" letter-spacing="0.12" fill="#231f20" font-family="Liberation Sans, sans-serif">0.05</text>
<rect x="585.4" y="884.8" width="9.5" height="1.2" fill="#9a9a9a"/>
<text x="571.5" y="891.0" font-size="17.5" letter-spacing="0.12" fill="#231f20" font-family="Liberation Sans, sans-serif">0</text>
<rect x="644.4" y="901" width="1" height="6" fill="#8a8a8a"/>
<text x="645.5" y="927.3" font-size="17.5" letter-spacing="0" text-anchor="middle" fill="#231f20" font-family="Liberation Sans, sans-serif">-10</text>
<rect x="704.1" y="901" width="1" height="6" fill="#8a8a8a"/>
<text x="705.2" y="927.3" font-size="17.5" letter-spacing="0" text-anchor="middle" fill="#231f20" font-family="Liberation Sans, sans-serif">-8</text>
<rect x="763.8" y="901" width="1" height="6" fill="#8a8a8a"/>
<text x="764.9" y="927.3" font-size="17.5" letter-spacing="0" text-anchor="middle" fill="#231f20" font-family="Liberation Sans, sans-serif">-6</text>
<rect x="823.6" y="901" width="1" height="6" fill="#8a8a8a"/>
<text x="824.7" y="927.3" font-size="17.5" letter-spacing="0" text-anchor="middle" fill="#231f20" font-family="Liberation Sans, sans-serif">-4</text>
<rect x="883.3" y="901" width="1" height="6" fill="#8a8a8a"/>
<text x="884.4" y="927.3" font-size="17.5" letter-spacing="0" text-anchor="middle" fill="#231f20" font-family="Liberation Sans, sans-serif">-2</text>
<rect x="943.0" y="901" width="1" height="6" fill="#8a8a8a"/>
<text x="944.1" y="927.3" font-size="17.5" letter-spacing="0" text-anchor="middle" fill="#231f20" font-family="Liberation Sans, sans-serif">0</text>
<text x="735.8" y="955.8" font-size="22" letter-spacing="0.3" fill="#231f20" font-family="Liberation Sans, sans-serif">Kyr BP</text>
<text transform="translate(516.4,800.3) rotate(-90)" font-size="22" text-anchor="middle" fill="#231f20" font-family="Liberation Sans, sans-serif">Derived Allele</text>
<text transform="translate(537.5,801.6) rotate(-90)" font-size="22" text-anchor="middle" fill="#231f20" font-family="Liberation Sans, sans-serif">Frequency</text>
<text x="712.9" y="749.3" font-size="20" letter-spacing="0.21" fill="#231f20" font-family="Liberation Sans, sans-serif">Positive selection</text>
<path d="M705.5,898 L705.5,780 Q705.5,777.7 708,777.7 L770,777.7 Q784,776.5 796,770.6 Q806,776.5 818,777.7 L883.3,777.7 L883.3,898" stroke="#333" stroke-width="1.1" stroke-dasharray="2.6,2.4" fill="none"/>
<path d="M603,883 L682,883 C698,883 718,877.5 744,869 C770,860.5 793,848 812,836.6 C829,826 842,810 852.5,795.5 C862,783 872,778 890,778 L953,778" stroke="#d42028" stroke-width="4.2" fill="none"/></svg>
</body></html>
